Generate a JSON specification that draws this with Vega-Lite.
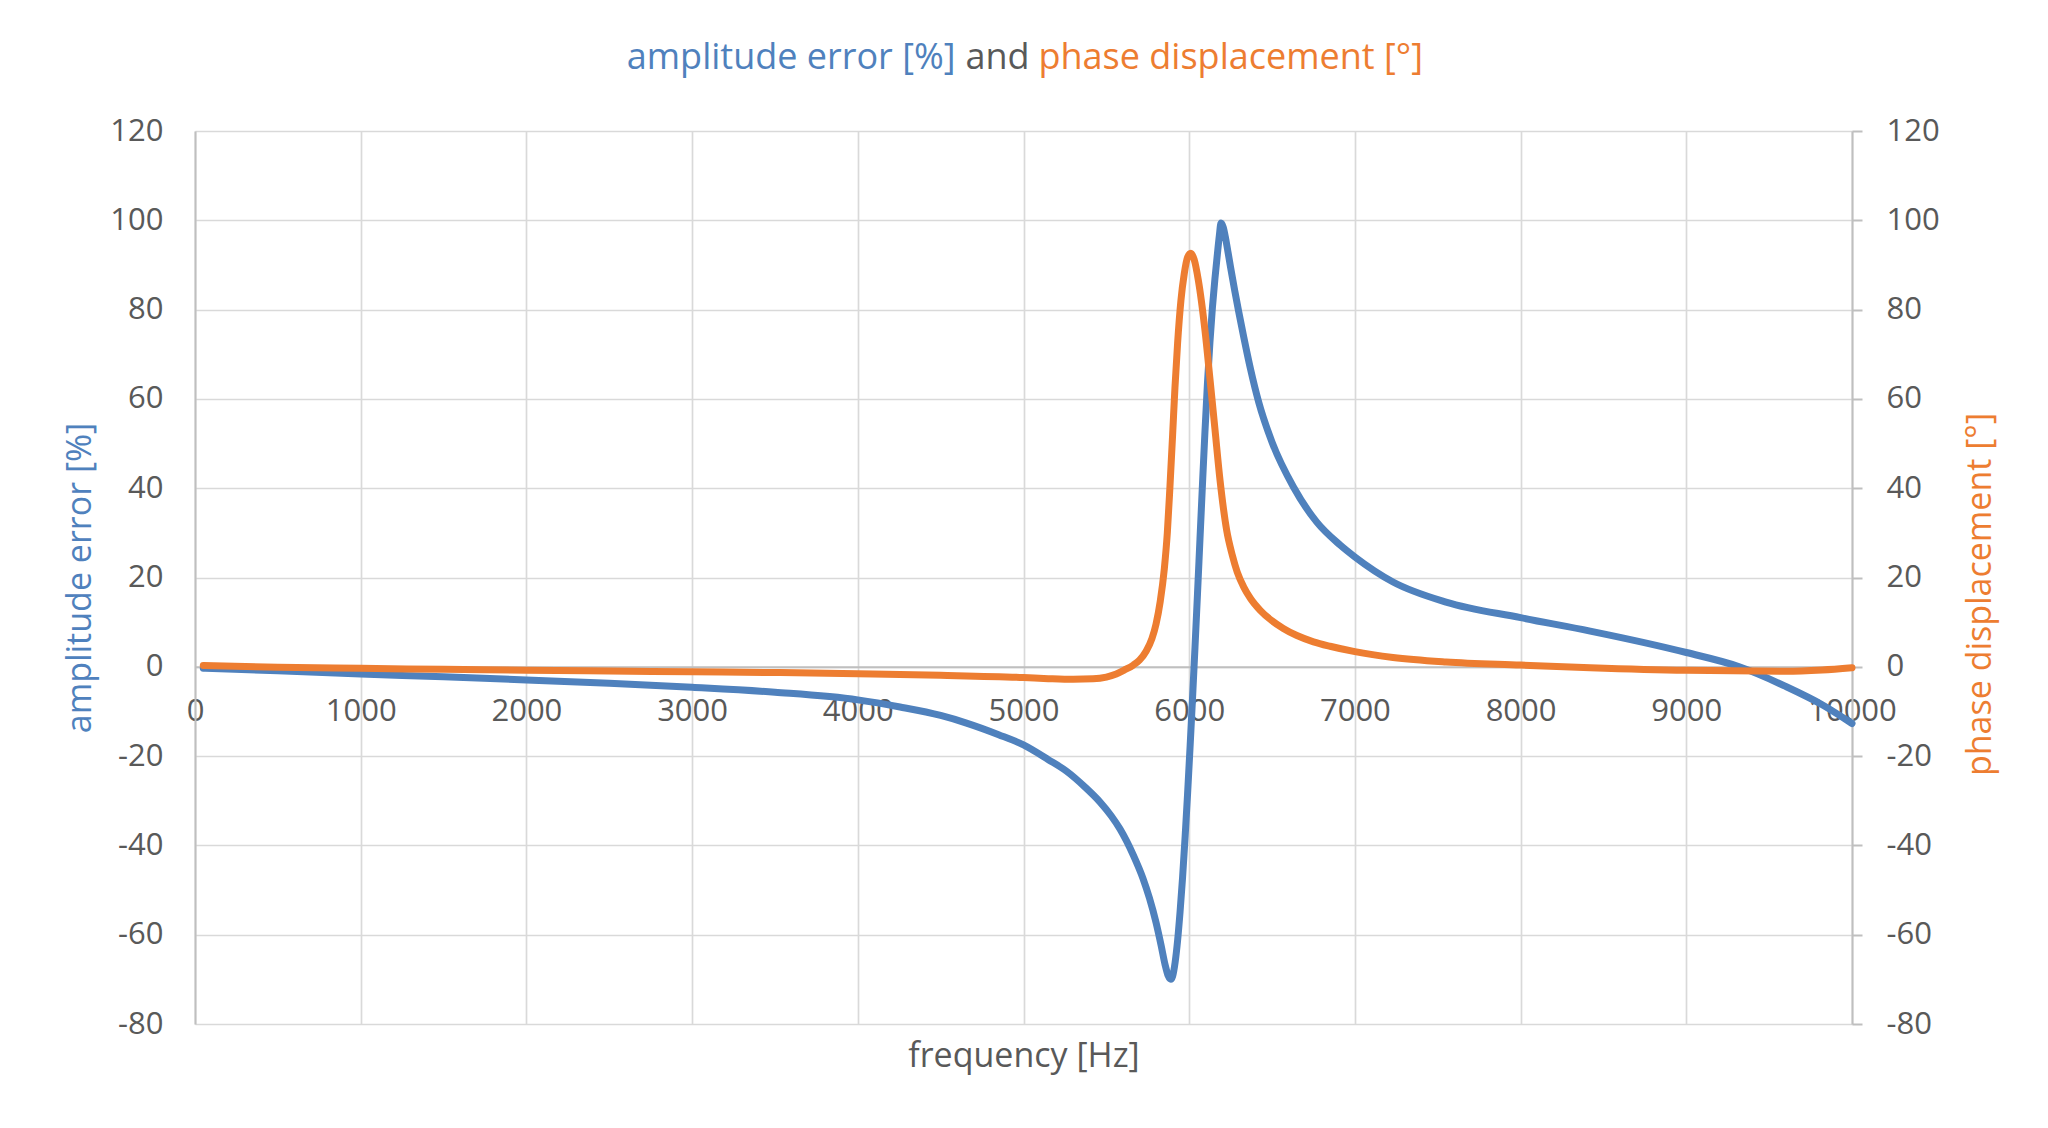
{
  "$schema": "https://vega.github.io/schema/vega-lite/v6.json",
  "width": 1657,
  "height": 893,
  "autosize": {"type": "none"},
  "padding": {"left": 195, "top": 131, "right": 196, "bottom": 104},
  "background": "white",
  "config": {
    "font": "Open Sans",
    "view": {"stroke": null},
    "axis": {
      "labelFont": "Open Sans",
      "labelFontSize": 31,
      "labelColor": "#595959",
      "titleFont": "Open Sans",
      "titleFontWeight": "normal",
      "titleFontSize": 34,
      "gridColor": "#D9D9D9",
      "gridWidth": 1.7,
      "domainColor": "#BFBFBF",
      "domainWidth": 2,
      "tickColor": "#BFBFBF",
      "tickWidth": 2
    }
  },
  "datasets": {
    "amp": [
      {"f": 50, "v": -0.3}, {"f": 500, "v": -0.9}, {"f": 1000, "v": -1.6}, {"f": 1500, "v": -2.25},
      {"f": 2000, "v": -2.95}, {"f": 2500, "v": -3.7}, {"f": 3000, "v": -4.6}, {"f": 3500, "v": -5.7},
      {"f": 4000, "v": -7.4}, {"f": 4255, "v": -9.0}, {"f": 4500, "v": -10.9}, {"f": 4656, "v": -12.6},
      {"f": 4850, "v": -15.2}, {"f": 5000, "v": -17.5}, {"f": 5150, "v": -20.8}, {"f": 5260, "v": -23.4},
      {"f": 5370, "v": -26.9}, {"f": 5462, "v": -30.3}, {"f": 5530, "v": -33.4}, {"f": 5582, "v": -36.3},
      {"f": 5663, "v": -42.2}, {"f": 5720, "v": -47.3}, {"f": 5760, "v": -51.8}, {"f": 5800, "v": -57.3},
      {"f": 5830, "v": -62.3}, {"f": 5855, "v": -66.8}, {"f": 5873, "v": -69.2}, {"f": 5889, "v": -70},
      {"f": 5900, "v": -69.3}, {"f": 5915, "v": -66.2}, {"f": 5930, "v": -61.3}, {"f": 5945, "v": -54.8},
      {"f": 5960, "v": -47.2}, {"f": 5975, "v": -38.3}, {"f": 5990, "v": -28.6}, {"f": 6005, "v": -18.1},
      {"f": 6020, "v": -7.1}, {"f": 6035, "v": 4.4}, {"f": 6050, "v": 16.3}, {"f": 6065, "v": 28.6},
      {"f": 6080, "v": 40.8}, {"f": 6095, "v": 52.6}, {"f": 6110, "v": 63.4}, {"f": 6125, "v": 72.6},
      {"f": 6140, "v": 80.4}, {"f": 6155, "v": 86.8}, {"f": 6170, "v": 92.4}, {"f": 6182, "v": 96.6},
      {"f": 6192, "v": 99.4}, {"f": 6205, "v": 98.5}, {"f": 6220, "v": 95.9}, {"f": 6235, "v": 92.7},
      {"f": 6250, "v": 89.4}, {"f": 6275, "v": 84.2}, {"f": 6300, "v": 79.3}, {"f": 6330, "v": 73.7},
      {"f": 6370, "v": 66.7}, {"f": 6420, "v": 59.2}, {"f": 6500, "v": 50.3}, {"f": 6630, "v": 40.2},
      {"f": 6770, "v": 32.4}, {"f": 6910, "v": 27.3}, {"f": 7000, "v": 24.6}, {"f": 7230, "v": 19.0},
      {"f": 7550, "v": 14.5}, {"f": 8000, "v": 11.0}, {"f": 8420, "v": 8.0}, {"f": 9000, "v": 3.2},
      {"f": 9320, "v": 0}, {"f": 9600, "v": -4.4}, {"f": 9820, "v": -8.5}, {"f": 10000, "v": -12.7}
    ],
    "phase": [
      {"f": 50, "v": 0.3}, {"f": 500, "v": -0.1}, {"f": 1000, "v": -0.35}, {"f": 1500, "v": -0.55},
      {"f": 2000, "v": -0.75}, {"f": 2500, "v": -0.95}, {"f": 3000, "v": -1.1}, {"f": 3500, "v": -1.28},
      {"f": 4000, "v": -1.55}, {"f": 4500, "v": -1.9}, {"f": 5000, "v": -2.4}, {"f": 5150, "v": -2.65},
      {"f": 5300, "v": -2.8}, {"f": 5420, "v": -2.7}, {"f": 5500, "v": -2.3}, {"f": 5560, "v": -1.6},
      {"f": 5610, "v": -0.7}, {"f": 5663, "v": 0.4}, {"f": 5700, "v": 1.5}, {"f": 5740, "v": 3.5},
      {"f": 5775, "v": 6.3}, {"f": 5800, "v": 9.6}, {"f": 5825, "v": 14.6}, {"f": 5850, "v": 22},
      {"f": 5868, "v": 30}, {"f": 5884, "v": 40.5}, {"f": 5900, "v": 52}, {"f": 5914, "v": 62.5},
      {"f": 5930, "v": 72.5}, {"f": 5950, "v": 82}, {"f": 5970, "v": 88}, {"f": 5990, "v": 91.7},
      {"f": 6010, "v": 92.6}, {"f": 6030, "v": 91.2}, {"f": 6055, "v": 86.6}, {"f": 6095, "v": 75.4},
      {"f": 6126, "v": 64.2}, {"f": 6156, "v": 53}, {"f": 6186, "v": 41.8}, {"f": 6226, "v": 30.6},
      {"f": 6260, "v": 25}, {"f": 6290, "v": 21.2}, {"f": 6330, "v": 17.8}, {"f": 6370, "v": 15.3},
      {"f": 6430, "v": 12.6}, {"f": 6500, "v": 10.3}, {"f": 6568, "v": 8.6}, {"f": 6650, "v": 7},
      {"f": 6750, "v": 5.6}, {"f": 6850, "v": 4.6}, {"f": 7000, "v": 3.4}, {"f": 7230, "v": 2.1},
      {"f": 7550, "v": 1.1}, {"f": 8000, "v": 0.4}, {"f": 8420, "v": -0.2}, {"f": 9000, "v": -0.8},
      {"f": 9600, "v": -1.0}, {"f": 9820, "v": -0.7}, {"f": 10000, "v": -0.2}
    ]
  },
  "layer": [
    {
      "data": {"name": "amp"},
      "mark": {"type": "line", "color": "#4F81BD", "strokeWidth": 7, "interpolate": "monotone", "strokeCap": "round", "strokeJoin": "round", "clip": false},
      "encoding": {
        "x": {
          "field": "f", "type": "quantitative",
          "scale": {"domain": [0, 10000], "nice": false, "zero": false},
          "axis": {
            "orient": "bottom", "offset": -357.2,
            "values": [0, 1000, 2000, 3000, 4000, 5000, 6000, 7000, 8000, 9000, 10000],
            "grid": false, "ticks": false, "tickSize": 0, "domain": true,
            "labelPadding": 30, "labelAlign": "center", "labelBaseline": "top",
            "labelFlush": false, "labelOverlap": false, "labelBound": false,
            "labelExpr": "'' + datum.value",
            "title": "frequency [Hz]", "titleColor": "#595959",
            "titleX": 828.5, "titleY": 390, "titleAlign": "center", "titleBaseline": "middle", "titleAngle": 0
          }
        },
        "y": {
          "field": "v", "type": "quantitative",
          "scale": {"domain": [-80, 120], "nice": false, "zero": false},
          "axis": {
            "orient": "left",
            "values": [-80, -60, -40, -20, 0, 20, 40, 60, 80, 100, 120],
            "grid": true, "ticks": false, "tickSize": 0, "domain": true,
            "labelPadding": 32, "labelAlign": "right", "labelBaseline": "middle",
            "labelFlush": false, "labelOverlap": false, "labelBound": false,
            "labelExpr": "'' + datum.value",
            "title": "amplitude error [%]", "titleColor": "#4F81BD",
            "titleX": -115, "titleY": 446.5, "titleAngle": 270, "titleAlign": "center", "titleBaseline": "middle"
          }
        }
      }
    },
    {
      "data": {"name": "phase"},
      "mark": {"type": "line", "color": "#ED7D31", "strokeWidth": 7, "interpolate": "monotone", "strokeCap": "round", "strokeJoin": "round", "clip": false},
      "encoding": {
        "x": {
          "field": "f", "type": "quantitative",
          "axis": {
            "orient": "top",
            "values": [0, 1000, 2000, 3000, 4000, 5000, 6000, 7000, 8000, 9000, 10000],
            "grid": true, "labels": false, "ticks": false, "domain": false,
            "title": "phase displacement [°]", "titleColor": "#ED7D31", "titleFontSize": 36,
            "titleX": 843, "titleY": -74, "titleAlign": "left", "titleBaseline": "middle", "titleAngle": 0
          }
        },
        "y": {
          "field": "v", "type": "quantitative",
          "scale": {"domain": [-80, 120], "nice": false, "zero": false},
          "axis": {
            "orient": "right",
            "values": [-80, -60, -40, -20, 0, 20, 40, 60, 80, 100, 120],
            "grid": false, "ticks": true, "tickSize": 10, "domain": true,
            "labelPadding": 24, "labelAlign": "left", "labelBaseline": "middle",
            "labelFlush": false, "labelOverlap": false, "labelBound": false,
            "labelExpr": "'' + datum.value",
            "title": "phase displacement [°]", "titleColor": "#ED7D31",
            "titleX": 128, "titleY": 463, "titleAngle": 270, "titleAlign": "center", "titleBaseline": "middle"
          }
        }
      }
    },
    {
      "data": {"name": "amp"},
      "transform": [{"filter": "false"}],
      "mark": {"type": "line", "opacity": 0},
      "encoding": {
        "x": {
          "field": "f", "type": "quantitative",
          "axis": {
            "orient": "top", "grid": false, "labels": false, "ticks": false, "domain": false,
            "title": "amplitude error [%]", "titleColor": "#4F81BD", "titleFontSize": 36,
            "titleX": 760, "titleY": -74, "titleAlign": "right", "titleBaseline": "middle", "titleAngle": 0
          }
        },
        "y": {"field": "v", "type": "quantitative", "scale": {"domain": [-80, 120], "nice": false}, "axis": null}
      }
    },
    {
      "data": {"name": "amp"},
      "transform": [{"filter": "false"}],
      "mark": {"type": "line", "opacity": 0},
      "encoding": {
        "x": {
          "field": "f", "type": "quantitative",
          "axis": {
            "orient": "top", "grid": false, "labels": false, "ticks": false, "domain": false,
            "title": "and", "titleColor": "#595959", "titleFontSize": 36,
            "titleX": 802, "titleY": -74, "titleAlign": "center", "titleBaseline": "middle", "titleAngle": 0
          }
        },
        "y": {"field": "v", "type": "quantitative", "scale": {"domain": [-80, 120], "nice": false}, "axis": null}
      }
    }
  ],
  "resolve": {
    "scale": {"y": "independent"},
    "axis": {"x": "independent", "y": "independent"}
  }
}
